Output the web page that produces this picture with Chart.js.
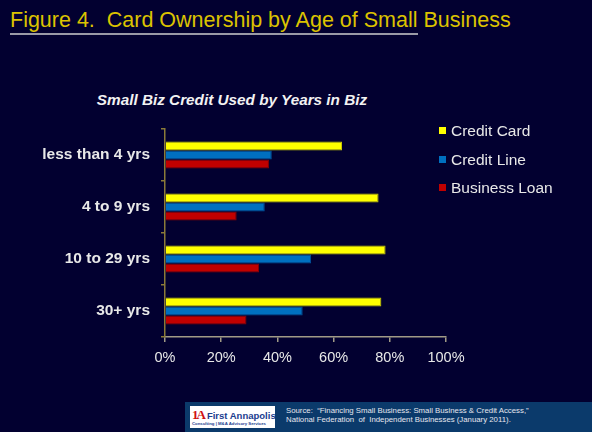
<!DOCTYPE html>
<html>
<head>
<meta charset="utf-8">
<script src="https://cdn.jsdelivr.net/npm/chart.js@4"></script>
<style>
  html, body { margin: 0; padding: 0; }
  body { width: 592px; height: 432px; background: #020030; position: relative; overflow: hidden; font-family: "Liberation Sans", Arial, sans-serif; }
  #page-title { position: absolute; left: 10px; top: 8px; color: #dcc300; font-size: 21.5px; white-space: nowrap; }
  #title-rule { position: absolute; left: 10px; top: 33px; width: 408px; height: 2px; background: #9a9aa6; }
  #chart-title { position: absolute; left: 0; width: 464px; top: 91px; text-align: center; color: #f2f2f2; font-size: 15.3px; font-weight: bold; font-style: italic; }
  #wrap { position: absolute; left: 0; top: 0; width: 592px; height: 432px; }
  #legend { position: absolute; left: 439px; top: 120px; color: #e8e8e8; font-size: 15.5px; }
  #legend div { height: 28.5px; line-height: 22px; white-space: nowrap; }
  #legend span.box { display: inline-block; width: 7px; height: 7px; margin-right: 5px; vertical-align: 2px; }
  #footer { position: absolute; left: 185px; top: 402px; width: 407px; height: 30px; background: #0b3a6b; }
  #logo { position: absolute; left: 5px; top: 4px; width: 85px; height: 22px; background: #fff; color: #1a3d8f; overflow: hidden; }
  #logo .big { position: absolute; left: 2px; top: 1px; font-size: 9.5px; font-weight: bold; white-space: nowrap; }
  #logo .big b { color: #d01010; font-family: "Liberation Serif", serif; font-size: 13px; letter-spacing: -2px; margin-right: 3px; }
  #logo .small { position: absolute; left: 2px; top: 15px; font-size: 4.3px; font-weight: bold; white-space: nowrap; }
  #source { position: absolute; left: 101px; top: 4px; color: #e6e6ee; font-size: 7.8px; line-height: 9px; white-space: nowrap; }
</style>
</head>
<body>
<div id="page-title">Figure 4.&nbsp; Card Ownership by Age of Small Business</div>
<div id="title-rule"></div>
<div id="chart-title">Small Biz Credit Used by Years in Biz</div>
<div id="wrap"><canvas id="chart" width="592" height="432"></canvas></div>
<div id="legend"></div>
<div id="footer">
  <div id="logo"><div class="big"><b>1A</b>First Annapolis</div><div class="small">Consulting | M&amp;A Advisory Services</div></div>
  <div id="source">Source:&nbsp; “Financing Small Business: Small Business &amp; Credit Access,”<br>National Federation&nbsp; of&nbsp; Independent Businesses (January 2011).</div>
</div>
<script>
// Chart data (percent of small businesses)
const categories = ['less than 4 yrs', '4 to 9 yrs', '10 to 29 yrs', '30+ yrs'];
const seriesNames = ['Credit Card', 'Credit Line', 'Business Loan'];
const creditCard = [63, 76, 78.5, 77];
const creditLine = [38, 35.5, 52, 49];
const businessLoan = [37, 25.5, 33.5, 29];
const xTicks = [0, 20, 40, 60, 80, 100];

const fills = ['#ffff00', '#0070c0', '#c00000'];
const edges = ['#c8c800', '#00509a', '#8a0000'];
const values = [creditCard, creditLine, businessLoan];

// legend built from the series arrays
const legend = document.getElementById('legend');
seriesNames.forEach((name, i) => {
    let row = document.createElement('div');
    let box = document.createElement('span');
    box.className = 'box';
    box.style.background = fills[i];
    row.appendChild(box);
    row.appendChild(document.createTextNode(name));
    legend.appendChild(row);
});

const ctx = document.getElementById('chart');
new Chart(ctx, {
    type: 'bar',
    data: {
        labels: categories,
        datasets: seriesNames.map((name, i) => ({
            label: name,
            data: values[i],
            backgroundColor: fills[i],
            borderColor: edges[i],
            borderWidth: 1,
            borderSkipped: 'left',
            categoryPercentage: 0.52,
            barPercentage: 1
        }))
    },
    options: {
        indexAxis: 'y',
        responsive: false,
        animation: false,
        layout: { padding: { left: 0, right: 146, top: 129, bottom: 65 } },
        plugins: { legend: { display: false }, title: { display: false }, tooltip: { enabled: false } },
        scales: {
            x: {
                min: 0,
                max: 100,
                afterFit: (s) => { s.height = 30; },
                afterBuildTicks: (s) => { s.ticks = xTicks.map(v => ({ value: v })); },
                grid: { drawOnChartArea: false, drawTicks: true, tickLength: 5, color: '#a09a86', lineWidth: 1.5 },
                border: { display: true, color: '#a09a86', width: 1.5 },
                ticks: {
                    color: '#e8e8e8',
                    padding: 7,
                    font: { family: '"Liberation Sans", Arial, sans-serif', size: 14.5 },
                    callback: (v) => v + '%'
                }
            },
            y: {
                afterFit: (s) => { s.width = 165; },
                grid: { drawOnChartArea: false, drawTicks: true, tickLength: 4, color: '#8a7a38', offset: true, lineWidth: 1.5 },
                border: { display: true, color: '#8a7a38', width: 1.5 },
                ticks: {
                    color: '#e8e8e8',
                    padding: 11,
                    font: { family: '"Liberation Sans", Arial, sans-serif', size: 15.5, weight: 'bold' }
                }
            }
        }
    }
});
</script>
</body>
</html>
